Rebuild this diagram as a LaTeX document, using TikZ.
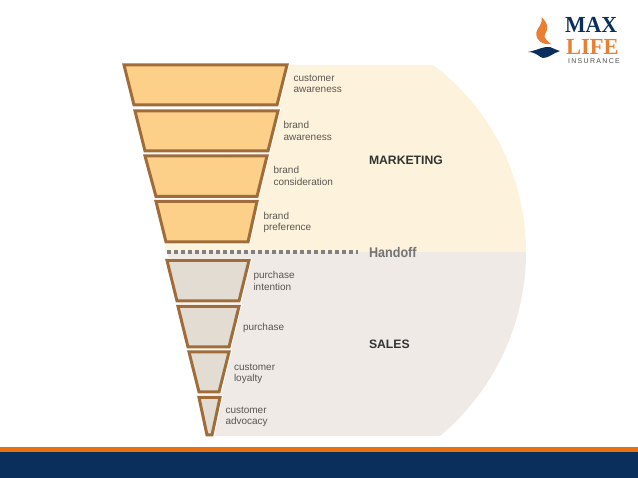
\documentclass[tikz,border=0pt]{standalone}
\usepackage{fontspec}
\setmainfont{Liberation Sans}
\newfontfamily\logoserif{Liberation Serif}
\newfontfamily\logosans[LetterSpace=19]{Liberation Sans}
\definecolor{mktback}{HTML}{FDF3DC}
\definecolor{salesback}{HTML}{F0EAE6}
\definecolor{mktfill}{HTML}{FDD08A}
\definecolor{salesfill}{HTML}{E2DCD3}
\definecolor{rim}{HTML}{A06C3A}
\definecolor{bandorange}{HTML}{E8700F}
\definecolor{logoorange}{HTML}{E87F33}
\definecolor{bandnavy}{HTML}{0A2F5C}
\definecolor{labelgrey}{HTML}{5A5550}

\begin{document}
\begin{tikzpicture}[x=1pt,y=-1pt,
              every node/.style={inner sep=0pt,outer sep=0pt},
              layer/.style={draw=rim,line width=3pt,line join=miter,
                preaction={draw=white,line width=5pt}},
              mktlayer/.style={layer,fill=mktfill},
              saleslayer/.style={layer,fill=salesfill},
              stage/.style={anchor=west,align=left,text=labelgrey,
                font=\fontsize{10}{11.5}\selectfont},
              zone/.style={anchor=west,text=black!80,
                font=\fontsize{12.2}{14}\selectfont\bfseries}]
    \useasboundingbox (0,0) rectangle (638,478);

    % background zones
    \fill [mktback] (287,65) -- (433,65)
        .. controls (492,108.5) and (526,179) .. (526,252)
        -- (165,252) -- (165,242) -- cycle;
    \fill [salesback] (167,252) -- (526,252)
        .. controls (526,323) and (494.5,390.4) .. (440,436)
        -- (210,436) -- cycle;

    % funnel
    \draw [mktlayer] (124,65) -- (287,65) -- (277,105) -- (134,105) -- cycle;
    \draw [mktlayer] (135,111) -- (278,111) -- (268,151) -- (145,151) -- cycle;
    \draw [mktlayer] (145,156) -- (267,156) -- (257,196.5) -- (156,196.5) -- cycle;
    \draw [mktlayer] (156,201.5) -- (257,201.5) -- (248,242) -- (166,242) -- cycle;
    \draw [saleslayer] (167,260.5) -- (249,260.5) -- (239,301) -- (177,301) -- cycle;
    \draw [saleslayer] (178,306.5) -- (239,306.5) -- (229,347) -- (188,347) -- cycle;
    \draw [saleslayer] (189,352) -- (229,352) -- (219,392) -- (199,392) -- cycle;
    \draw [saleslayer] (199,397.5) -- (220,397.5) -- (212,435) -- (207,435) -- cycle;

    % handoff line
    \draw [black!50,line width=3.6pt,dash pattern=on 3.8pt off 3.2pt] (167,252) -- (358,252);

    \node [stage] (awareness) at (293.5,84) {customer\\awareness};
    \node [stage] (brandaware) at (283.5,131) {brand\\awareness};
    \node [stage] (consider) at (273.5,176) {brand\\consideration};
    \node [stage] (prefer) at (263.5,222.5) {brand\\preference};
    \node [stage] (intent) at (253.5,281) {purchase\\intention};
    \node [stage] (purchase) at (243,327.5) {purchase};
    \node [stage] (loyalty) at (234,374) {customer\\loyalty};
    \node [stage] (advocacy) at (225.5,417) {customer\\advocacy};

    \node [zone] (marketing) at (369,160.5) {MARKETING};
    \node [zone] (sales) at (369,344.5) {SALES};
    \node [zone,text=black!55,font=\fontsize{14}{16}\selectfont\bfseries,
        xscale=.9,transform shape] (handoff) at (369,252) {Handoff};

    % logo
    \fill [logoorange] (541.5,17) .. controls (549,24) and (548,30) .. (545,34)
        .. controls (543,37) and (547,41) .. (551,44)
        .. controls (543,45) and (535,41) .. (536.5,32)
        .. controls (537.5,27) and (543,25) .. (541.5,17) -- cycle;
    \fill [bandnavy] (528,52) .. controls (538,50) and (544,46) .. (550,47)
        .. controls (553,48) and (556,50) .. (560,51)
        .. controls (553,53) and (549,58) .. (543,58)
        .. controls (540,58) and (537,52) .. (528,52) -- cycle;
    \node [anchor=west,text=bandnavy,xscale=.95,transform shape,
        font=\fontsize{23}{25}\selectfont\logoserif\bfseries] (max) at (565,25) {MAX};
    \node [anchor=west,text=logoorange,xscale=.98,transform shape,
        font=\fontsize{23}{25}\selectfont\logoserif\bfseries] (life) at (566,47) {LIFE};
    \node [anchor=west,text=black!70,font=\fontsize{7}{8}\selectfont\logosans] (insurance) at (568,61.5) {INSURANCE};

    % bottom band
    \fill [bandorange] (0,447) rectangle (638,452);
    \fill [bandnavy] (0,452) rectangle (638,478);
\end{tikzpicture}
\end{document}
